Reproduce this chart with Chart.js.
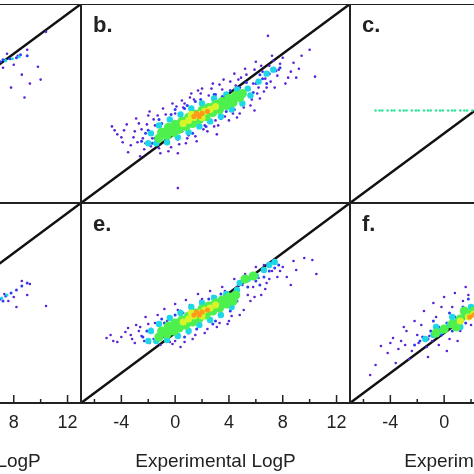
<!DOCTYPE html>
<html><head><meta charset="utf-8">
<script src="https://cdn.jsdelivr.net/npm/chart.js@4.4.0/dist/chart.umd.min.js"></script>
<style>
body{margin:0;width:474px;height:474px;overflow:hidden;background:#fff;position:relative}
.p{position:absolute}
</style></head><body>
<script>
const xTicksMajor=[-4,0,4,8,12];
const xTicksMinor=[-6,-2,2,6,10];
const axisTitle="Experimental LogP";
const diag=[{x:-7,y:-7},{x:13,y:13}];

const bPurple=[[-4.7,0.7],[-4.3,-0.1],[-3.8,0.3],[-3.3,-1.2],[-3.0,0.2],[-2.7,1.0],[-2.4,-0.5],[-2.0,1.8],[-1.8,-1.3],[-1.5,0.8],[-1.2,-1.5],[-0.9,2.5],[-0.5,-1.8],[-0.2,3.0],[0.2,-2.0],[0.5,3.3],[0.8,-1.0],[1.2,4.0],[1.6,-0.8],[2.0,4.5],[2.4,0.2],[2.8,5.0],[3.2,0.8],[3.6,5.4],[4.0,1.3],[4.4,6.0],[4.8,2.0],[5.2,6.5],[5.6,2.8],[6.0,7.2],[6.3,3.5],[6.7,5.5],[7.0,6.8],[7.4,4.6],[7.8,7.0],[8.2,5.0],[8.6,6.2],[9.0,5.6],[9.4,7.8],[10.0,8.4],[10.4,5.7],[6.9,9.8],[0.2,-5.5],[-3.5,-1.9],[-2.6,-2.3],[5.0,4.0],[5.8,5.0],[6.5,6.2],[3.8,3.0],[4.5,4.8],[7.2,7.8],[8.0,7.6],[-1.0,-0.6],[-0.5,-0.9],[0.0,2.0],[0.6,2.6],[1.0,-0.2],[2.5,3.8],[3.0,1.3],[3.5,4.4],[4.2,2.6],[5.5,3.8],[6.2,4.6],[-2.2,-1.0],[-1.6,1.4],[1.4,3.4],[2.2,0.8],[4.9,5.6],[6.6,4.2],[7.6,5.8],
[-3.9,-0.9],[-3.6,0.9],[-3.1,-0.4],[-2.9,1.5],[-2.5,0.4],[-2.3,-1.6],[-2.1,0.9],[-1.9,2.2],[-1.7,-0.5],[-1.3,1.8],[-1.1,-2.0],[-0.7,1.9],[-0.3,-1.4],[0.1,2.7],[0.3,-1.1],[0.7,3.0],[0.9,-0.5],[1.1,3.6],[1.5,-0.3],[1.9,4.0],[2.1,0.4],[2.7,4.5],[2.9,0.7],[3.3,4.9],[3.7,1.7],[4.1,5.2],[4.3,2.0],[4.7,5.4],[5.1,2.6],[5.3,5.9],[5.7,3.4],[5.9,6.4],[6.1,4.0],[6.4,6.8],[6.8,4.6],[7.1,5.2],[7.3,7.3],[7.7,6.4],[8.4,5.6],[8.8,7.1],[9.2,6.5],[-4.5,0.3],[-4.0,-0.4],[-2.8,-0.9],[1.7,4.3],[3.1,-0.1],[4.6,1.6],[5.9,2.3]];
const bBlue=[[-2.5,-0.8],[-2.0,0.3],[-1.5,-0.5],[-1.0,1.0],[-0.5,0.0],[0,2.4],[0.5,0.2],[1.5,3.2],[2.5,1.4],[3.5,3.7],[4.5,3.4],[5.0,3.6],[5.5,4.4],[6.0,5.0],[6.5,5.5],[7.0,6.0],[7.5,6.3],[-1.3,-0.9],[0.9,2.8],[2.9,3.9],[3.8,2.2],[4.8,4.6],[-2.2,0.0],[-1.7,-1.0],[-1.2,1.4],[-0.7,-0.6],[-0.3,1.9],[0.2,-0.6],[0.7,2.5],[1.3,0.0],[1.9,3.4],[2.3,0.7],[3.0,3.9],[3.4,1.5],[4.1,4.3],[4.4,2.4],[5.3,5.1],[5.8,4.1],[6.3,5.9],[6.8,5.0],[7.2,6.5],[7.8,6.6]];
const bCyan=[[-2,-1],[-1.8,0],[-1.4,-1],[-1.2,0.8],[-0.6,-0.9],[-0.4,1.4],[0.2,-0.4],[0.4,1.9],[1,0.1],[1.2,2.5],[1.8,0.7],[2,3.0],[2.6,1.2],[2.9,3.5],[3.4,1.7],[3.8,3.9],[4.2,2.4],[4.6,4.4],[5,3.0],[5.4,4.5],[5.6,3.8],[6.2,5.2],[6.8,6.0],[7.3,6.4]];
const bGreen=[[-1.2,-0.5],[-1,0.1],[-0.6,-0.2],[-0.5,0.6],[-0.1,0.1],[0,0.9],[0.3,0.4],[0.5,1.2],[0.8,0.7],[1,1.6],[1.3,1.0],[1.5,1.9],[1.8,1.4],[2,2.3],[2.3,1.7],[2.5,2.6],[2.8,2.1],[3,2.9],[3.3,2.4],[3.5,3.2],[3.8,2.8],[4,3.5],[4.3,3.1],[4.5,3.8],[4.8,3.6],[5,4.0]];
const bYellow=[[0.6,1.0],[1,1.3],[1.4,1.6],[1.8,1.9],[2.2,2.2],[2.6,2.4],[1.2,1.9],[2,1.6],[3,2.7]];
const bOrange=[[1.4,1.7],[1.8,1.7],[2.0,2.0],[2.4,2.2],[1.6,2.0]];

const ePurple=[[-5.1,-0.5],[-4.8,-0.2],[-4.3,-0.9],[-3.7,0.1],[-3.2,-0.6],[-2.9,0.8],[-2.5,-0.3],[-2.2,1.6],[-1.9,-1.0],[-1.5,1.0],[-1.1,-1.2],[-0.8,2.4],[-0.4,-0.9],[0.0,2.9],[0.4,-1.4],[0.8,3.3],[1.3,-0.6],[1.7,3.9],[2.2,0.0],[2.6,4.2],[3.1,0.6],[3.5,4.6],[4.0,1.2],[4.4,5.4],[4.8,1.8],[5.2,5.9],[5.6,3.2],[6.0,6.6],[6.4,3.8],[6.8,5.0],[7.2,6.2],[7.6,5.6],[8.0,6.6],[8.6,4.8],[9.0,6.3],[9.6,7.5],[10.2,7.3],[10.5,5.9],[3.2,2.5],[4.5,4.0],[5.8,4.6],[6.6,6.8],[-1.7,0.2],[-2.6,0.6],[0.6,2.0],[2.0,3.4],[5.0,4.8],[7.4,7.0],
[-4.6,-0.8],[-4.0,-0.4],[-3.5,0.5],[-3.0,-1.0],[-2.7,0.2],[-2.3,-0.8],[-2.0,0.9],[-1.6,-0.6],[-1.3,1.8],[-0.9,-0.4],[-0.6,1.2],[-0.2,-1.1],[0.2,2.3],[0.7,-0.9],[1.1,2.8],[1.5,-0.2],[1.9,3.2],[2.4,0.4],[2.8,3.7],[3.3,1.0],[3.7,4.2],[4.2,1.7],[4.6,4.6],[5.1,2.3],[5.4,3.8],[5.9,3.6],[6.2,5.5],[6.7,4.4],[7.0,5.4],[7.8,6.2],[8.3,5.6],[8.8,7.2],[-3.3,-0.2],[0.0,-0.8],[3.9,0.9]];
const eBlue=[[-2.4,-0.4],[-1.8,0.4],[-1.2,-0.3],[-0.8,1.0],[-0.2,0.0],[0.4,2.2],[1.0,0.0],[2.0,3.0],[3.0,1.2],[3.8,3.6],[4.6,3.2],[5.4,4.6],[6.0,5.2],[6.6,5.6],[7.0,6.2],[7.4,6.5],[5.0,5.2],[-2.1,0.2],[-1.5,-0.8],[-1.0,1.4],[-0.5,-0.5],[0.0,1.8],[0.7,-0.4],[1.3,2.6],[1.6,0.4],[2.5,3.4],[2.8,0.9],[3.4,3.9],[4.1,2.2],[4.4,4.2],[5.6,5.6],[6.3,4.8],[7.2,7.1],[7.7,6.8]];
const eCyan=[[-2,-0.8],[-1.8,0.2],[-1.4,-0.8],[-1.2,0.9],[-0.6,-0.7],[-0.4,1.5],[0.2,-0.3],[0.4,2.0],[1,0.2],[1.2,2.6],[1.8,0.8],[2,3.0],[2.6,1.3],[2.9,3.5],[3.4,1.8],[3.8,3.9],[4.2,2.6],[4.6,4.3],[4.8,5.0],[5.4,5.4],[6.0,5.7],[6.6,6.3],[7.0,6.8],[7.4,7.1]];
const eGreen=[[-1.2,-0.4],[-1,0.2],[-0.6,-0.1],[-0.5,0.7],[-0.1,0.2],[0,1.0],[0.3,0.5],[0.5,1.3],[0.8,0.8],[1,1.7],[1.3,1.1],[1.5,2.0],[1.8,1.5],[2,2.4],[2.3,1.8],[2.5,2.7],[2.8,2.2],[3,3.0],[3.3,2.5],[3.5,3.3],[3.8,2.9],[4,3.6],[4.3,3.2],[4.5,3.8],[5.2,5.4],[5.8,5.7]];
const eYellow=[[0.6,1.1],[1,1.4],[1.4,1.7],[1.8,2.0],[2.2,2.3],[2.6,2.5],[1.2,2.0],[2,1.7],[3,2.8]];
const eOrange=[[1.4,1.8],[1.8,1.8],[2.0,2.1],[2.4,2.3],[1.6,2.1]];

const cLineX=[-5.1,-4.8,-4.6,-4.2,-3.9,-3.7,-3.3,-3.0,-2.8,-2.4,-2.1,-1.9,-1.5,-1.2,-1.0,-0.6,-0.3,-0.1,0.3,0.6,0.8,1.2,1.5,1.7,2.1,2.4,2.6,3.0,3.3,3.5,3.9,4.2,4.4,4.8,5.1,5.3,5.7,6.0,6.2,6.6,6.9,7.1];
const cLineY=2.3;

const aPurple=[[7.5,8.0],[8.0,6.9],[8.6,5.9],[9.2,5.0],[8.3,7.8],[7.2,6.6],[9.0,8.4],[10.4,10.2],[9.8,6.7],[7.8,4.6],[8.8,3.6],[10.0,5.4]];
const aBlue=[[7.2,7.4],[7.7,7.5],[8.2,7.6],[8.5,7.9],[7.0,7.2],[9.0,7.8]];
const aCyan=[[7.4,7.3],[7.9,7.5],[8.4,7.7]];

const dPurple=[[7.3,3.9],[7.6,3.2],[8.2,2.6],[9.0,3.8],[8.6,5.2],[10.4,2.7],[8.0,3.6],[9.2,4.9]];
const dBlue=[[7.0,3.4],[7.4,3.7],[7.8,4.0],[8.2,4.3],[8.6,4.7],[9.0,5.0],[7.2,3.2]];
const dCyan=[[7.1,3.5],[7.5,3.8]];

const fPurple=[[-5.1,-3.2],[-4.7,-1.3],[-4.2,-2.0],[-3.8,-0.5],[-3.4,-1.6],[-3.0,0.6],[-2.6,-2.6],[-2.2,1.2],[-1.9,-1.0],[-1.5,2.2],[-1.1,-0.3],[-0.8,3.0],[-0.4,-1.2],[0.0,3.6],[0.4,-0.6],[0.8,4.0],[1.2,0.2],[1.6,4.6],[2.0,0.8],[-2.8,0.2],[-2.0,-0.2],[-0.6,1.6],[0.6,2.6],[-5.5,-4.2],[-3.6,-3.0],[-1.2,-2.4],[0.2,-1.8],[1.4,3.2],[-4.0,-1.0],[-3.2,-0.8],[-2.4,-1.8],[-1.7,0.8],[-1.3,-1.4],[-0.2,2.6],[1.0,-0.8],[1.8,3.8],[-2.9,-1.2],[-0.9,-0.8]];
const fBlue=[[-2.2,-1.2],[-1.6,-0.4],[-1.0,0.2],[-0.4,0.6],[0.2,1.0],[0.8,1.6],[1.4,2.6],[-0.8,1.2],[0.4,2.0],[1.8,3.4],[-1.8,-0.8],[-1.2,-0.6],[-0.2,-0.2],[0.6,0.2],[1.6,1.0]];
const fCyan=[[-1.4,-0.6],[-0.8,-0.2],[-0.2,0.2],[0.4,0.8],[1.0,1.2],[1.6,1.8],[2.0,2.6],[-0.6,0.6],[0.6,1.6],[1.2,0.6]];
const fGreen=[[-0.6,0.0],[0.0,0.4],[0.6,0.9],[1.2,1.4],[1.8,1.8],[2.2,2.2],[0.9,0.6],[1.5,2.2]];
const fYellow=[[1.2,1.2],[1.8,1.6],[2.2,1.9]];
const fOrange=[[1.9,1.6],[2.2,1.8]];

const COL={purple:'#5b22d6',blue:'#2a3cf5',cyan:'#1fd6e6',green:'#4df04d',yellow:'#d8f52a',orange:'#ff9a1a',c:'#33e39a'};
const pts=a=>a.map(p=>({x:p[0],y:p[1]}));

const panelPlugin={id:'panel',afterDatasetsDraw(ch,args,o){
  const c=ch.ctx,a=ch.chartArea,xs=ch.scales.x;
  c.save();c.strokeStyle='#222';c.lineWidth=2;
  c.strokeRect(a.left,a.top,a.right-a.left,a.bottom-a.top);
  if(o.letter){c.fillStyle='#222';c.font='bold 22px "Liberation Sans",Arial';c.textBaseline='top';c.textAlign='left';c.fillText(o.letter,a.left+12,a.top+11);}
  if(o.axis){
    c.lineWidth=1.5;
    xTicksMajor.forEach(v=>{const px=xs.getPixelForValue(v);c.beginPath();c.moveTo(px,a.bottom);c.lineTo(px,a.bottom-8);c.stroke();
      c.fillStyle='#222';c.font='18px "Liberation Sans",Arial';c.textAlign='center';c.textBaseline='middle';c.fillText(String(v),px,a.bottom+20);});
    xTicksMinor.forEach(v=>{const px=xs.getPixelForValue(v);c.beginPath();c.moveTo(px,a.bottom);c.lineTo(px,a.bottom-4);c.stroke();});
    c.font='19px "Liberation Sans",Arial';c.textAlign='center';c.textBaseline='middle';
    c.fillText(axisTitle,(a.left+a.right)/2+(o.titleShift||0),a.bottom+59);
  }
  c.restore();
}};

function panel(left,top,w,h,axis,letter,sets,titleShift){
  const d=document.createElement('div');d.className='p';
  const H=h+(axis?71:0);
  d.style.cssText=`left:${left}px;top:${top}px;width:${w}px;height:${H}px`;
  const cv=document.createElement('canvas');d.appendChild(cv);document.body.appendChild(d);
  const n=sets.length;
  const ds=sets.map((s,i)=>({type:'scatter',data:s.d,order:n-i,pointRadius:s.r||1.3,pointBackgroundColor:s.c,pointBorderWidth:0,borderWidth:0}));
  ds.push({type:'line',data:diag,order:n+1,borderColor:'#111',borderWidth:2.5,pointRadius:0,fill:false});
  new Chart(cv,{type:'scatter',data:{datasets:ds},options:{responsive:true,maintainAspectRatio:false,animation:false,
    layout:{autoPadding:false,padding:{left:0,right:0,top:0,bottom:axis?71:0}},
    plugins:{legend:{display:false},tooltip:{enabled:false},panel:{letter,axis,titleShift}},
    scales:{x:{type:'linear',min:-7,max:13,display:false},y:{type:'linear',min:-7,max:13,display:false}}},
    plugins:[panelPlugin]});
}
const layers=(p,b,cy,g,y,o)=>[
  {d:pts(p),c:COL.purple},{d:pts(b),c:COL.blue,r:1.5},{d:pts(cy),c:COL.cyan,r:g?3.2:1.6},
  ...(g?[{d:pts(g),c:COL.green,r:4.6}]:[]),...(y?[{d:pts(y),c:COL.yellow,r:3.6}]:[]),...(o?[{d:pts(o),c:COL.orange,r:2.6}]:[])];

panel(-188,4,269,199,false,'',layers(aPurple,aBlue,aCyan));
panel(81,4,269,199,false,'b.',layers(bPurple,bBlue,bCyan,bGreen,bYellow,bOrange));
panel(350,4,269,199,false,'c.',[{d:cLineX.map(x=>({x,y:cLineY})),c:COL.c,r:1.3}]);
panel(-188,203,269,200,true,'',layers(dPurple,dBlue,dCyan),14);
panel(81,203,269,200,true,'e.',layers(ePurple,eBlue,eCyan,eGreen,eYellow,eOrange));
panel(350,203,269,200,true,'f.',layers(fPurple,fBlue,fCyan,fGreen,fYellow,fOrange),0);
</script></body></html>
